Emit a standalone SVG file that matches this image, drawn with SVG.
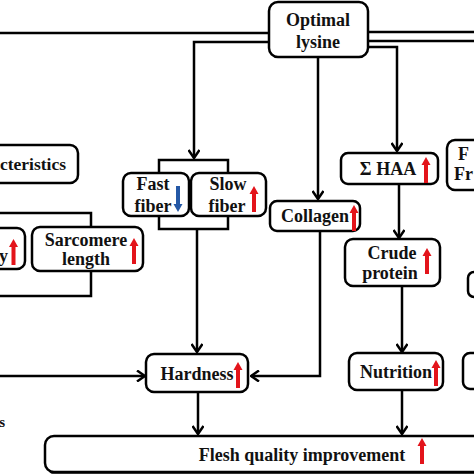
<svg xmlns="http://www.w3.org/2000/svg" width="474" height="474" viewBox="0 0 474 474">
<style>
.box{fill:#fff;stroke:#000;stroke-width:2.5}
.ln{fill:none;stroke:#000;stroke-width:2.5}
.t{font-family:"Liberation Serif","Times New Roman",serif;font-weight:bold;font-size:18px;fill:#111;text-anchor:middle}
.up{fill:#e3141b}
.dn{fill:#2458a6}
</style>
<defs>
<marker id="ah" viewBox="0 0 10 12" refX="9" refY="6" markerWidth="10" markerHeight="12" markerUnits="userSpaceOnUse" orient="auto">
<path d="M1,0.5 L9,6 L1,11.5" fill="none" stroke="#000" stroke-width="2.5"/>
</marker>
<path id="upArrow" d="M0,0 L4.5,8 L2,8 L2,26 L-2,26 L-2,8 L-4.5,8 Z"/>
</defs>
<rect width="474" height="474" fill="#fff"/>

<g id="connectors">
<path class="ln" d="M0,33 H269"/>
<path class="ln" d="M368,32 H474"/>
<path class="ln" d="M368,41 H474"/>
<path class="ln" d="M269,42 H194 V158" marker-end="url(#ah)"/>
<path class="ln" d="M368,47 H397 V151" marker-end="url(#ah)"/>
<path class="ln" d="M318,57 V199" marker-end="url(#ah)"/>
<path class="ln" d="M159,175 V160 H228 V175"/>
<path class="ln" d="M159,215 V229 H228 V215"/>
<path class="ln" d="M197,229 V352" marker-end="url(#ah)"/>
<path class="ln" d="M320,231 V376 H251" marker-end="url(#ah)"/>
<path class="ln" d="M0,376 H145" marker-end="url(#ah)"/>
<path class="ln" d="M399,184 V238" marker-end="url(#ah)"/>
<path class="ln" d="M402,286 V352" marker-end="url(#ah)"/>
<path class="ln" d="M198,392 V434" marker-end="url(#ah)"/>
<path class="ln" d="M402,390 V434" marker-end="url(#ah)"/>
<path class="ln" d="M0,213 H91 V227"/>
<path class="ln" d="M0,296 H91 V271"/>
</g>

<g id="optimal-lysine">
<rect class="box" x="269" y="2" width="99" height="55" rx="9"/>
<text class="t" x="318" y="26">Optimal</text>
<text class="t" x="318" y="48">lysine</text>
</g>

<g id="characteristics">
<rect class="box" x="-12" y="145" width="90" height="38" rx="8"/>
<text class="t" x="66" y="170" style="text-anchor:end;font-size:17.5px">cteristics</text>
</g>

<g id="density">
<rect class="box" x="-30" y="228" width="55" height="41" rx="8"/>
<text class="t" x="8" y="262" style="text-anchor:end">y</text>
<use href="#upArrow" class="up" x="13.5" y="239"/>
</g>

<g id="sarcomere">
<rect class="box" x="32" y="227" width="111" height="44" rx="8"/>
<text class="t" x="86" y="246">Sarcomere</text>
<text class="t" x="86" y="265">length</text>
<use href="#upArrow" class="up" x="134" y="238"/>
</g>

<g id="fast-fiber">
<rect class="box" x="123" y="173" width="66" height="43" rx="8"/>
<text class="t" x="153" y="190">Fast</text>
<text class="t" x="153" y="212">fiber</text>
<use href="#upArrow" class="dn" transform="translate(178,212) scale(1,-1)"/>
</g>

<g id="slow-fiber">
<rect class="box" x="191" y="173" width="75" height="43" rx="8"/>
<text class="t" x="228" y="190">Slow</text>
<text class="t" x="227" y="212">fiber</text>
<use href="#upArrow" class="up" x="254" y="186"/>
</g>

<g id="collagen">
<rect class="box" x="270" y="201" width="90" height="30" rx="7"/>
<text class="t" x="315" y="222">Collagen</text>
<use href="#upArrow" class="up" x="354" y="205"/>
</g>

<g id="haa">
<rect class="box" x="341" y="153" width="97" height="31" rx="7"/>
<text class="t" x="388" y="175">Σ HAA</text>
<use href="#upArrow" class="up" x="426" y="157"/>
</g>

<g id="crude-protein">
<rect class="box" x="345" y="239" width="95" height="47" rx="8"/>
<text class="t" x="392" y="259">Crude</text>
<text class="t" x="390" y="279">protein</text>
<use href="#upArrow" class="up" x="427" y="248"/>
</g>

<g id="hardness">
<rect class="box" x="146" y="354" width="102" height="38" rx="8"/>
<text class="t" x="197" y="380">Hardness</text>
<use href="#upArrow" class="up" x="238" y="362"/>
</g>

<g id="nutrition">
<rect class="box" x="349" y="353" width="94" height="37" rx="8"/>
<text class="t" x="396" y="378">Nutrition</text>
<use href="#upArrow" class="up" x="436" y="360"/>
</g>

<g id="right-top">
<rect class="box" x="447" y="140" width="50" height="50" rx="8"/>
<text class="t" x="458" y="160" style="text-anchor:start">F</text>
<text class="t" x="454" y="180" style="text-anchor:start">Fr</text>
</g>

<g id="right-mid">
<rect class="box" x="468" y="272" width="30" height="25" rx="6"/>
</g>

<g id="right-bottom">
<rect class="box" x="463" y="353" width="30" height="36" rx="7"/>
</g>

<g id="flesh-quality">
<rect x="47" y="439" width="440" height="36" rx="9" fill="#444"/>
<rect class="box" x="45" y="436" width="440" height="36" rx="9"/>
<text class="t" x="302" y="461">Flesh quality improvement</text>
<use href="#upArrow" class="up" x="422" y="438"/>
</g>

<g id="legend-fragment">
<text class="t" x="5" y="427" style="text-anchor:end;font-size:15px">s</text>
</g>
</svg>
